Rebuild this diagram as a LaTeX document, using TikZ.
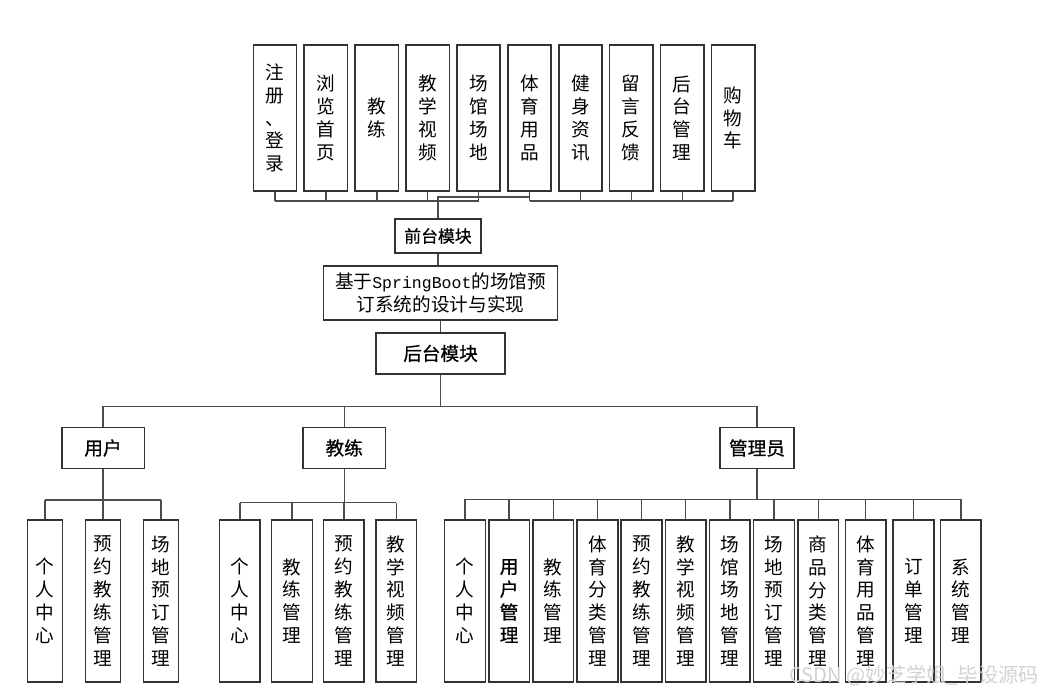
\documentclass[tikz,border=0pt]{standalone}
\usepackage{fontspec}
\setmainfont{Noto Sans CJK SC}
\newfontfamily\monofont{Liberation Mono}
\newfontfamily\headfont[FakeBold=0.8]{Noto Sans CJK SC}
\usetikzlibrary{positioning,calc}

\begin{document}
\begin{tikzpicture}[x=0.02cm,y=-0.02cm,
  box/.style={draw=black!80,line width=0.9pt,fill=white,align=center,inner sep=0pt,font=\fontsize{10.6}{13}\selectfont},
  topbox/.style={box,minimum width=0.866cm,minimum height=2.914cm},
  leafbox/.style={box,minimum width=0.816cm,minimum height=3.24cm},
  headbox/.style={box,minimum height=0.812cm,font=\headfont\fontsize{10.6}{13}\selectfont},
  link/.style={draw=black!70,line width=0.8pt}]
  \useasboundingbox (0,0) rectangle (1047,695);
  \foreach \i/\t in {1/{注\\册\\、\\登\\录},2/{浏\\览\\首\\页},3/{教\\练},4/{教\\学\\视\\频},5/{场\\馆\\场\\地},
    6/{体\\育\\用\\品},7/{健\\身\\资\\讯},8/{留\\言\\反\\馈},9/{后\\台\\管\\理},10/{购\\物\\车}}
    \node[topbox] (t\i) at ({275+50.9*(\i-1)},118) {\t};
  \node[headbox,minimum width=1.72cm,minimum height=0.68cm,font=\headfont\fontsize{9.6}{12}\selectfont] (qt) at (438,236) {前台模块};
  \node[box,minimum width=4.688cm,minimum height=1.086cm] (title) at (440.5,293) {基于{\monofont\fontsize{9.4}{13}\selectfont SpringBoot}的场馆预\\订系统的设计与实现};
  \node[headbox,minimum width=2.58cm,minimum height=0.826cm] (ht) at (440.5,353.4) {后台模块};
  \node[headbox,minimum width=1.652cm] (user) at (103,448) {用户};
  \node[headbox,minimum width=1.66cm] (coach) at (344.2,448) {教练};
  \node[headbox,minimum width=1.486cm] (admin) at (757,448) {管理员};
  \foreach \i/\x/\t in {1/45.2/{个\\人\\中\\心},2/103/{预\\约\\教\\练\\管\\理},3/160.8/{场\\地\\预\\订\\管\\理}}
    \node[leafbox,minimum width=0.70cm] (u\i) at (\x,601) {\t};
  \foreach \i/\x/\t in {1/239.8/{个\\人\\中\\心},2/292/{教\\练\\管\\理},3/343.8/{预\\约\\教\\练\\管\\理},4/396.2/{教\\学\\视\\频\\管\\理}}
    \node[leafbox] (c\i) at (\x,601) {\t};
  \foreach \i/\x/\t in {1/465/{个\\人\\中\\心},2/509.1/{\headfont 用\\\headfont 户\\\headfont 管\\\headfont 理},3/553.2/{教\\练\\管\\理},
    4/597.5/{体\\育\\分\\类\\管\\理},5/641.6/{预\\约\\教\\练\\管\\理},6/685.7/{教\\学\\视\\频\\管\\理},
    7/729.8/{场\\馆\\场\\地\\管\\理},8/774/{场\\地\\预\\订\\管\\理},9/818.2/{商\\品\\分\\类\\管\\理},
    10/865.7/{体\\育\\用\\品\\管\\理},11/913.4/{订\\单\\管\\理},12/960.8/{系\\统\\管\\理}}
    \node[leafbox] (a\i) at (\x,601) {\t};
  \coordinate (fbus) at (0,201);
  \coordinate (ftie) at (0,197);
  \coordinate (hbus) at (0,406.7);
  \coordinate (ubus) at (0,500);
  \coordinate (cbus) at (0,502.7);
  \coordinate (abus) at (0,499.3);
  \foreach \i in {1,...,10} \draw[link] (t\i.south) -- (t\i.south |- fbus);
  \draw[link] (t1.south |- fbus) -- (t5.south |- fbus);
  \draw[link] (t6.south |- fbus) -- (t10.south |- fbus);
  \draw[link] (t6.south |- ftie) -| (qt.north);
  \draw[link] (qt.south) -- (qt.south |- title.north);
  \draw[link] (title.south) -- (ht.north);
  \draw[link] (ht.south) -- (ht.south |- hbus);
  \draw[link] (user.north) -- (user.north |- hbus) -| (admin.north);
  \draw[link] (coach.north) -- (coach.north |- hbus);
  \draw[link] (user.south) -- (user.south |- ubus);
  \foreach \i in {1,2,3} \draw[link] (u\i.north) -- (u\i.north |- ubus);
  \draw[link] (u1.north |- ubus) -- (u3.north |- ubus);
  \draw[link] (coach.south) -- (coach.south |- cbus);
  \foreach \i in {1,...,4} \draw[link] (c\i.north) -- (c\i.north |- cbus);
  \draw[link] (c1.north |- cbus) -- (c4.north |- cbus);
  \draw[link] (admin.south) -- (admin.south |- abus);
  \foreach \i in {1,...,12} \draw[link] (a\i.north) -- (a\i.north |- abus);
  \draw[link] (a1.north |- abus) -- (a12.north |- abus);
  \node[text=gray!35,font=\fontsize{11.5}{13}\selectfont,anchor=east] (mark) at (1045,676) {CSDN @妙芝学姐\_毕设源码};
\end{tikzpicture}
\end{document}
